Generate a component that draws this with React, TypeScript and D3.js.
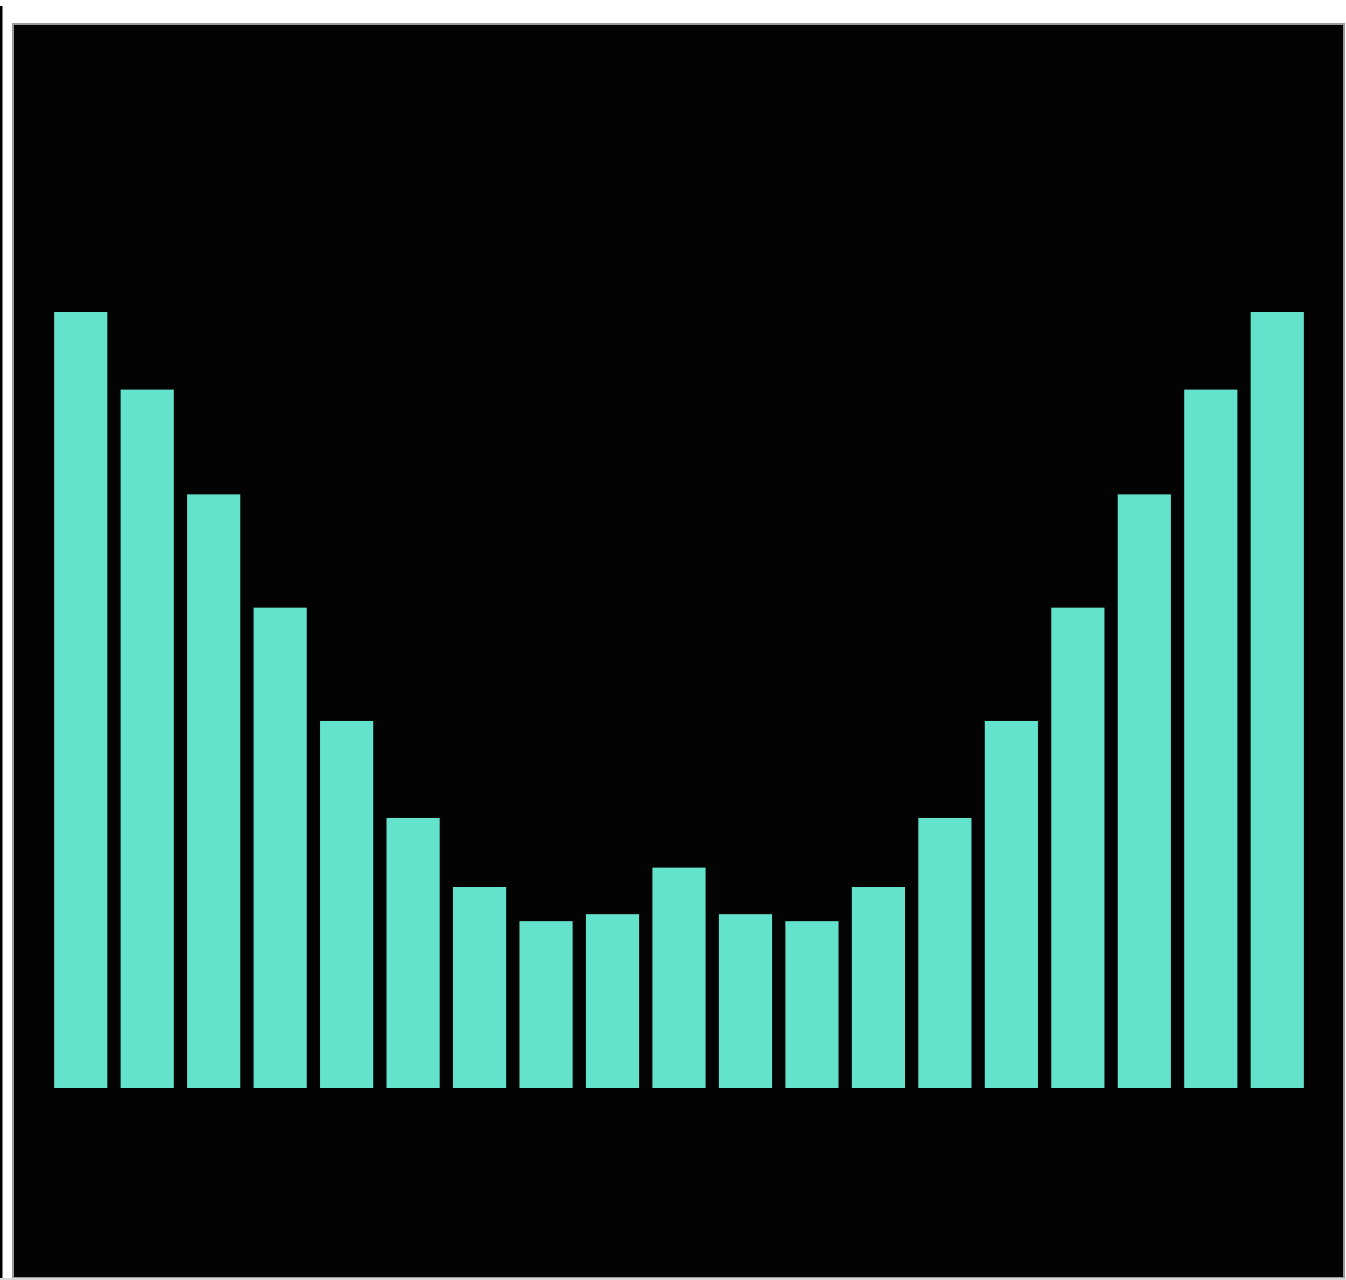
import * as d3 from "d3";

// one bar per column, symmetric "smile" shape
const categories = [
  "b1", "b2", "b3", "b4", "b5", "b6", "b7", "b8", "b9", "b10",
  "b11", "b12", "b13", "b14", "b15", "b16", "b17", "b18", "b19",
];
const values = [
  100, 90, 76.5, 61.9, 47.3, 34.8, 25.9, 21.5, 22.4, 28.4,
  22.4, 21.5, 25.9, 34.8, 47.3, 61.9, 76.5, 90, 100,
];

const App = () => {
  const width = 1346;
  const height = 1280;

  // Scales mapping the bar index and value to the framed black panel
  const xScale = d3
    .scaleBand<string>()
    .domain(categories)
    .range([47.5, 1310.5])
    .paddingInner(0.2)
    .paddingOuter(0.1);
  const yScale = d3.scaleLinear().domain([0, 100]).range([1088, 312]);

  return (
    <div style={{ position: "absolute", top: 0, left: 0 }}>
      <svg width={width} height={height} style={{ display: "block" }}>
        <rect x={0} y={0} width={width} height={height} fill="#ffffff" />
        <rect x={0} y={6} width={2.5} height={height - 6} fill="#000000" />
        {/* dark panel with a soft grey edge */}
        <rect x={12} y={23} width={1333} height={1256} fill="#9a9a9a" />
        <rect x={14} y={25} width={1329} height={1252} fill="#030303" />
        <rect x={0} y={1278} width={width} height={2} fill="#d8d8d8" />
        {values.map((v, i) => (
          <rect
            key={categories[i]}
            x={xScale(categories[i])}
            y={yScale(v)}
            width={xScale.bandwidth()}
            height={yScale(0) - yScale(v)}
            fill="#63e2cc"
          />
        ))}
      </svg>
    </div>
  );
};

export default App;
